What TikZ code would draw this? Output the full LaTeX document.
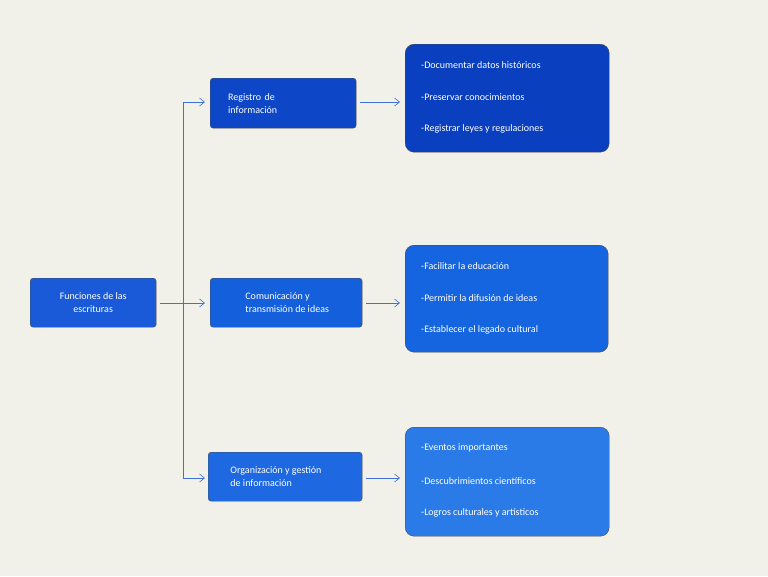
\documentclass[tikz,border=0pt]{standalone}
\usepackage{fontspec}
\setmainfont{Carlito}
\usetikzlibrary{arrows.meta}
\definecolor{bg}{HTML}{F1F1EA}
\definecolor{ln}{HTML}{3F6FD8}
\begin{document}
\begin{tikzpicture}[x=1pt,y=-1pt,
 box/.style={draw=black!70,rounded corners=3pt,text=white,font=\fontsize{10}{13}\selectfont,align=left,inner sep=0pt,anchor=north west},
 big/.style={draw=black!70,rounded corners=9pt,text=white,font=\fontsize{10}{13}\selectfont,inner sep=0pt,anchor=north west},
 arr/.style={draw=ln,-{Straight Barb[length=5pt,width=8pt]},line width=0.6pt}]
\fill[bg] (0,0) rectangle (768,576);
\node[box,fill={rgb,255:red,26;green,90;blue,216},minimum width=126,minimum height=49,align=center] (f) at (30,278) {Funciones de las\\escrituras};
\node[box,fill={rgb,255:red,13;green,71;blue,200},minimum width=146,minimum height=50,text width=134,xshift=0] (r) at (210,78) {\hspace*{12pt}Registro de\\\hspace*{12pt}información};
\node[box,fill={rgb,255:red,20;green,95;blue,220},minimum width=152,minimum height=49] (c) at (210,278) {\hspace*{12pt}Comunicación y\\\hspace*{12pt}transmisión de ideas\hspace*{10pt}};
\node[box,fill={rgb,255:red,30;green,105;blue,225},minimum width=154,minimum height=49] (o) at (208,452) {\hspace*{12pt}Organización y gestión\\\hspace*{12pt}de información\hspace*{60pt}};
\node[big,fill={rgb,255:red,10;green,63;blue,192},minimum width=204,minimum height=108] (r2) at (405,44) {};
\node[big,fill={rgb,255:red,21;green,101;blue,224},minimum width=203,minimum height=107] (c2) at (405,245) {};
\node[big,fill={rgb,255:red,42;green,122;blue,232},minimum width=204,minimum height=109] (o2) at (405,427) {};
\begin{scope}[every node/.style={text=white,font=\fontsize{10}{12}\selectfont,anchor=west,inner sep=0pt}]
\node (a1) at (421,65) {-Documentar datos históricos};
\node (a2) at (421,97) {-Preservar conocimientos};
\node (a3) at (421,129) {-Registrar leyes y regulaciones};
\node (b1) at (421,266) {-Facilitar la educación};
\node (b2) at (421,298) {-Permitir la difusión de ideas};
\node (b3) at (421,330) {-Establecer el legado cultural};
\node (d1) at (421,448) {-Eventos importantes};
\node (d2) at (421,481) {-Descubrimientos científicos};
\node (d3) at (421,513) {-Logros culturales y artísticos};
\end{scope}
\coordinate (s) at (160,303);
\coordinate (t) at (183,102);
\coordinate (u) at (183,478);
\draw[arr] (s) -- (205,303);
\draw[ln,line width=0.6pt] (t) -- (u);
\draw[arr] (t) -- (205,102);
\draw[arr] (u) -- (205,478);
\draw[arr] (360,102) -- (400,102);
\draw[arr] (366,303) -- (400,303);
\draw[arr] (366,478) -- (400,478);
\end{tikzpicture}
\end{document}
